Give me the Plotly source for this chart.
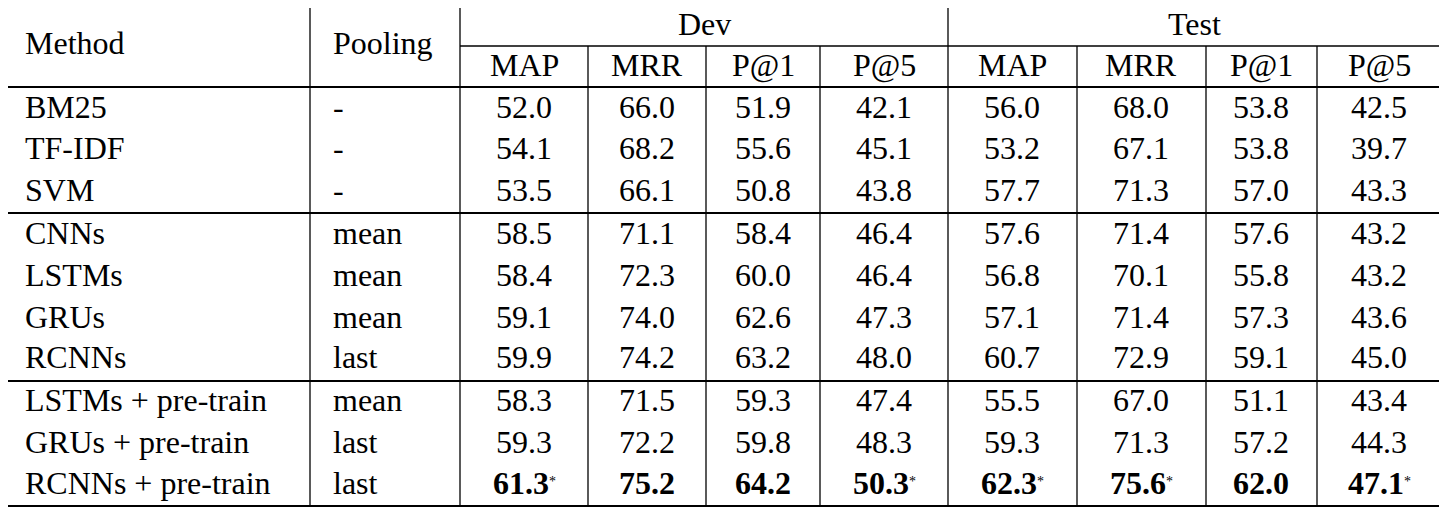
import plotly.graph_objects as go

methods = ["BM25", "TF-IDF", "SVM", "CNNs", "LSTMs", "GRUs", "RCNNs",
           "LSTMs + pre-train", "GRUs + pre-train", "RCNNs + pre-train"]
pooling = ["-", "-", "-", "mean", "mean", "mean", "last", "mean", "last", "last"]
metrics = ["MAP", "MRR", "P@1", "P@5"]
groups = ["Dev", "Test"]
dev_map = ["52.0", "54.1", "53.5", "58.5", "58.4", "59.1", "59.9", "58.3", "59.3", "61.3"]
dev_mrr = ["66.0", "68.2", "66.1", "71.1", "72.3", "74.0", "74.2", "71.5", "72.2", "75.2"]
dev_p1 = ["51.9", "55.6", "50.8", "58.4", "60.0", "62.6", "63.2", "59.3", "59.8", "64.2"]
dev_p5 = ["42.1", "45.1", "43.8", "46.4", "46.4", "47.3", "48.0", "47.4", "48.3", "50.3"]
test_map = ["56.0", "53.2", "57.7", "57.6", "56.8", "57.1", "60.7", "55.5", "59.3", "62.3"]
test_mrr = ["68.0", "67.1", "71.3", "71.4", "70.1", "71.4", "72.9", "67.0", "71.3", "75.6"]
test_p1 = ["53.8", "53.8", "57.0", "57.6", "55.8", "57.3", "59.1", "51.1", "57.2", "62.0"]
test_p5 = ["42.5", "39.7", "43.3", "43.2", "43.2", "43.6", "45.0", "43.4", "44.3", "47.1"]
last_row_star = [True, False, False, True, True, True, False, True]

columns = [dev_map, dev_mrr, dev_p1, dev_p5, test_map, test_mrr, test_p1, test_p5]

# layout geometry (page pixels)
col_x = [524, 647, 763, 884, 1012, 1141, 1261, 1379]
row_y = [107, 148, 190, 233, 275, 317, 357, 400, 442, 483]
FONT = dict(family="Liberation Serif, Times New Roman, serif", size=32, color="black")
OFF = 8  # page body margin

fig = go.Figure()
fig.add_trace(go.Scatter(x=[OFF, 1447], y=[OFF, 509], mode="markers",
                         marker=dict(opacity=0), hoverinfo="skip", showlegend=False))

ann = []
def add(x, y, t, xa="center"):
    ann.append(dict(x=x, y=y, text=t, showarrow=False, xanchor=xa, yanchor="middle",
                    font=FONT, xref="x", yref="y"))

add(23, 43, "Method", "left")
add(331, 43, "Pooling", "left")
add(704, 24, "Dev")
add(1194, 24, "Test")
for i, cx in enumerate(col_x):
    add(cx, 65, metrics[i % 4])
for r, y in enumerate(row_y):
    add(23, y, methods[r], "left")
    add(331, y, pooling[r], "left")
    for c, cx in enumerate(col_x):
        v = columns[c][r]
        if r == len(row_y) - 1:
            t = "<b>" + v + "</b>" + ("<span style='font-size:20px'><sup>*</sup></span>" if last_row_star[c] else "")
        else:
            t = v
        add(cx, y, t)

shapes = []
def line(x0, y0, x1, y1, w=1.3):
    shapes.append(dict(type="line", x0=x0, y0=y0, x1=x1, y1=y1, xref="x", yref="y",
                       line=dict(color="black", width=w)))

line(4, 3, 1443, 3, 2)
line(460, 46, 1443, 46)
line(4, 87, 1443, 87, 2)
line(4, 213, 1443, 213, 2)
line(4, 381, 1443, 381, 2)
line(4, 506, 1443, 506, 2)
for x in [310, 460, 948]:
    line(x, 3, x, 506)
for x in [588, 706, 820, 1077, 1206, 1317]:
    line(x, 46, x, 506)

fig.update_layout(
    width=1447 - OFF, height=509 - OFF, margin=dict(l=0, r=0, t=0, b=0),
    plot_bgcolor="white", paper_bgcolor="white",
    xaxis=dict(range=[OFF, 1447], visible=False, fixedrange=True),
    yaxis=dict(range=[509, OFF], visible=False, fixedrange=True),
    annotations=ann, shapes=shapes,
)
fig.write_html("out.html")
